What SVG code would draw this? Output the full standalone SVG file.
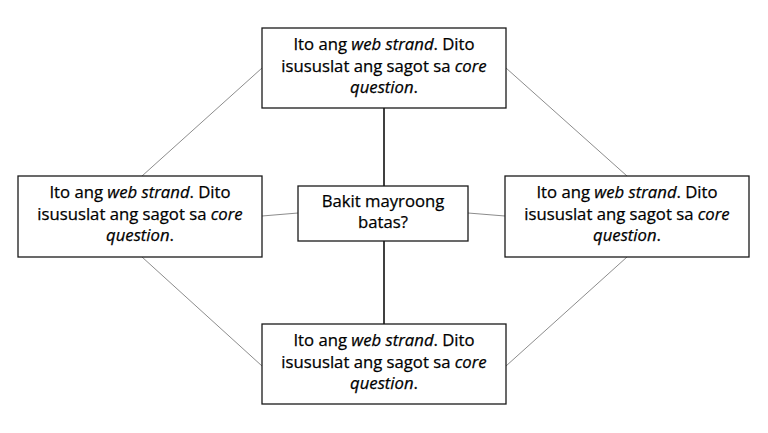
<svg xmlns="http://www.w3.org/2000/svg" width="768" height="433" viewBox="0 0 768 433">
<style>
.box{fill:#fff;stroke:#1a1a1a;stroke-width:1.3}
.t{font-family:"Open Sans","Liberation Sans",sans-serif;font-size:16.7px;font-weight:500;fill:#000;stroke:#000;stroke-width:0.25;text-anchor:middle}
.i{font-style:italic}
.thin{stroke:#8c8c8c;stroke-width:1;fill:none}
.thick{stroke:#000;stroke-width:1.5;fill:none}
</style>
<rect width="768" height="433" fill="#fff"/>
<g id="connectors">
<line class="thick" x1="384" y1="108" x2="384" y2="186"/>
<line class="thick" x1="384" y1="241" x2="384" y2="324"/>
<line class="thin" x1="262" y1="216" x2="298" y2="213"/>
<line class="thin" x1="468" y1="213" x2="505" y2="216"/>
<line class="thin" x1="262" y1="68" x2="142" y2="176"/>
<line class="thin" x1="142" y1="257" x2="262" y2="366"/>
<line class="thin" x1="506" y1="68" x2="627" y2="176"/>
<line class="thin" x1="627" y1="257" x2="506" y2="366"/>
</g>
<g id="top">
<rect class="box" x="262" y="28" width="244" height="80"/>
<text class="t" x="384" y="50">Ito ang <tspan class="i">web strand</tspan>. Dito</text>
<text class="t" x="384" y="72">isususlat ang sagot sa <tspan class="i">core</tspan></text>
<text class="t i" x="384" y="93">question<tspan font-style="normal">.</tspan></text>
</g>
<g id="left">
<rect class="box" x="18" y="176" width="244" height="81"/>
<text class="t" x="140" y="198">Ito ang <tspan class="i">web strand</tspan>. Dito</text>
<text class="t" x="140" y="220">isususlat ang sagot sa <tspan class="i">core</tspan></text>
<text class="t i" x="140" y="241">question<tspan font-style="normal">.</tspan></text>
</g>
<g id="center">
<rect class="box" x="298" y="186" width="170" height="55"/>
<text class="t" x="383" y="207">Bakit mayroong</text>
<text class="t" x="383" y="228">batas?</text>
</g>
<g id="right">
<rect class="box" x="505" y="176" width="244" height="81"/>
<text class="t" x="627" y="198">Ito ang <tspan class="i">web strand</tspan>. Dito</text>
<text class="t" x="627" y="220">isususlat ang sagot sa <tspan class="i">core</tspan></text>
<text class="t i" x="627" y="241">question<tspan font-style="normal">.</tspan></text>
</g>
<g id="bottom">
<rect class="box" x="262" y="324" width="244" height="80"/>
<text class="t" x="384" y="346">Ito ang <tspan class="i">web strand</tspan>. Dito</text>
<text class="t" x="384" y="368">isususlat ang sagot sa <tspan class="i">core</tspan></text>
<text class="t i" x="384" y="389">question<tspan font-style="normal">.</tspan></text>
</g>
</svg>
